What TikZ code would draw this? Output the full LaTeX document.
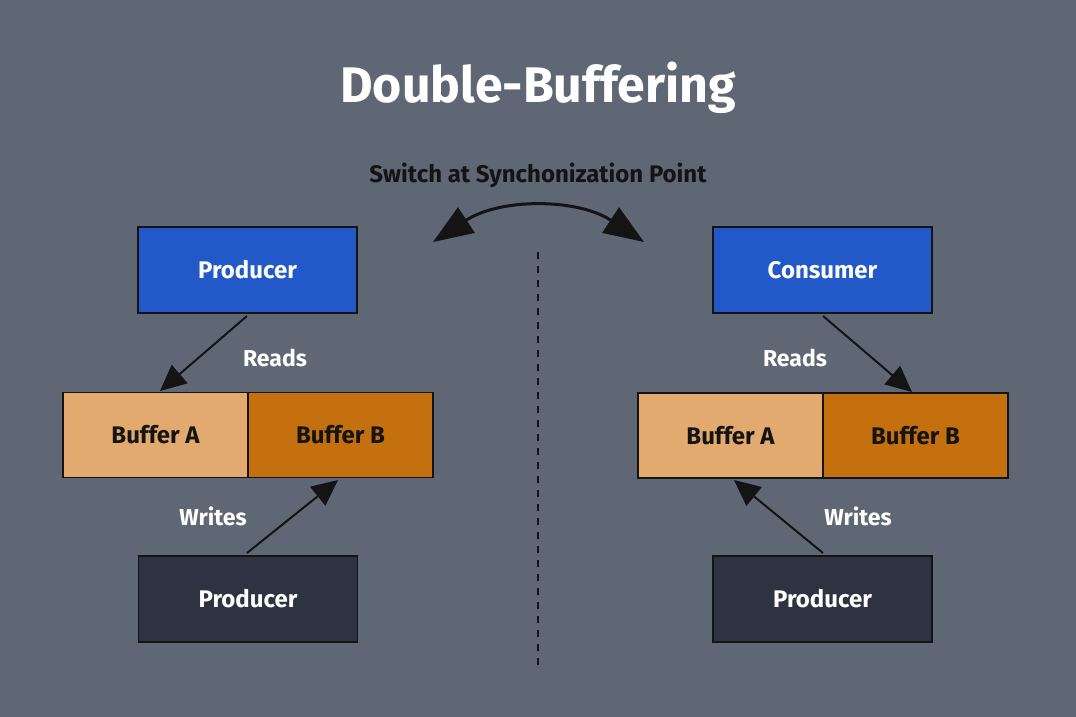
\documentclass[tikz,border=0pt]{standalone}
\usepackage{fontspec}
\setmainfont{Fira Sans}
\usetikzlibrary{arrows.meta}
\definecolor{bg}{HTML}{5F6775}
\definecolor{blu}{HTML}{2358C8}
\definecolor{bufa}{HTML}{E2AA6E}
\definecolor{bufb}{HTML}{C4700F}
\definecolor{dk}{HTML}{2D3340}
\definecolor{ink}{HTML}{141414}
\tikzset{
 box/.style={draw=ink,line width=1.5pt,minimum width=219pt,minimum height=86pt,font=\bfseries\fontsize{24}{28}\selectfont,text=white,inner sep=0},
 buf/.style={draw=ink,line width=1.5pt,minimum width=185pt,minimum height=85pt,font=\bfseries\fontsize{24}{28}\selectfont,text=ink,inner sep=0},
 lbl/.style={font=\bfseries\fontsize{23}{28}\selectfont,text=white},
 arr/.style={draw=ink,line width=2pt,-{Triangle[length=26pt,width=24pt]}}
}
\begin{document}
\begin{tikzpicture}[x=1pt,y=-1pt]
\fill[bg] (0,0) rectangle (1076,717);
\useasboundingbox (0,0) rectangle (1076,717);
\node[font=\bfseries\fontsize{50}{56}\selectfont,text=white] (title) at (538,88) {Double-Buffering};
\node[font=\bfseries\fontsize{24}{28}\selectfont,text=ink] (sub) at (538,175) {Switch at Synchonization Point};
\coordinate (sl) at (433,242); \coordinate (sr) at (644,242);
\draw[line width=3pt,ink,{Triangle[length=40pt,width=30pt]}-{Triangle[length=40pt,width=30pt]}] (sl) .. controls (500,198) and (577,198) .. (sr);
\coordinate (d1) at (538,252); \coordinate (d2) at (538,670);
\draw[ink,line width=2pt,dash pattern=on 7pt off 7pt] (d1) -- (d2);
% left
\node[box,fill=blu] (lp) at (247.5,270) {Producer};
\node[buf,fill=bufa] (la) at (155.5,435) {Buffer A};
\node[buf,fill=bufb] (lb) at (340.5,435) {Buffer B};
\node[box,fill=dk] (lq) at (248,599) {Producer};
\coordinate (l1) at (247,316); \coordinate (l2) at (160,391);
\draw[arr] (l1) -- (l2);
\node[lbl] (lr) at (275,358) {Reads};
\coordinate (l3) at (247,553); \coordinate (l4) at (338,480);
\draw[arr] (l3) -- (l4);
\node[lbl] (lw) at (213,516) {Writes};
% right
\node[box,fill=blu] (rc) at (822.5,270) {Consumer};
\node[buf,fill=bufa] (ra) at (730.5,435.5) {Buffer A};
\node[buf,fill=bufb] (rb) at (915.5,435.5) {Buffer B};
\node[box,fill=dk] (rq) at (822.5,599) {Producer};
\coordinate (r1) at (823,316); \coordinate (r2) at (912,392);
\draw[arr] (r1) -- (r2);
\node[lbl] (rr) at (795,358) {Reads};
\coordinate (r3) at (823,553); \coordinate (r4) at (734,480);
\draw[arr] (r3) -- (r4);
\node[lbl] (rw) at (858,516) {Writes};
\end{tikzpicture}
\end{document}
